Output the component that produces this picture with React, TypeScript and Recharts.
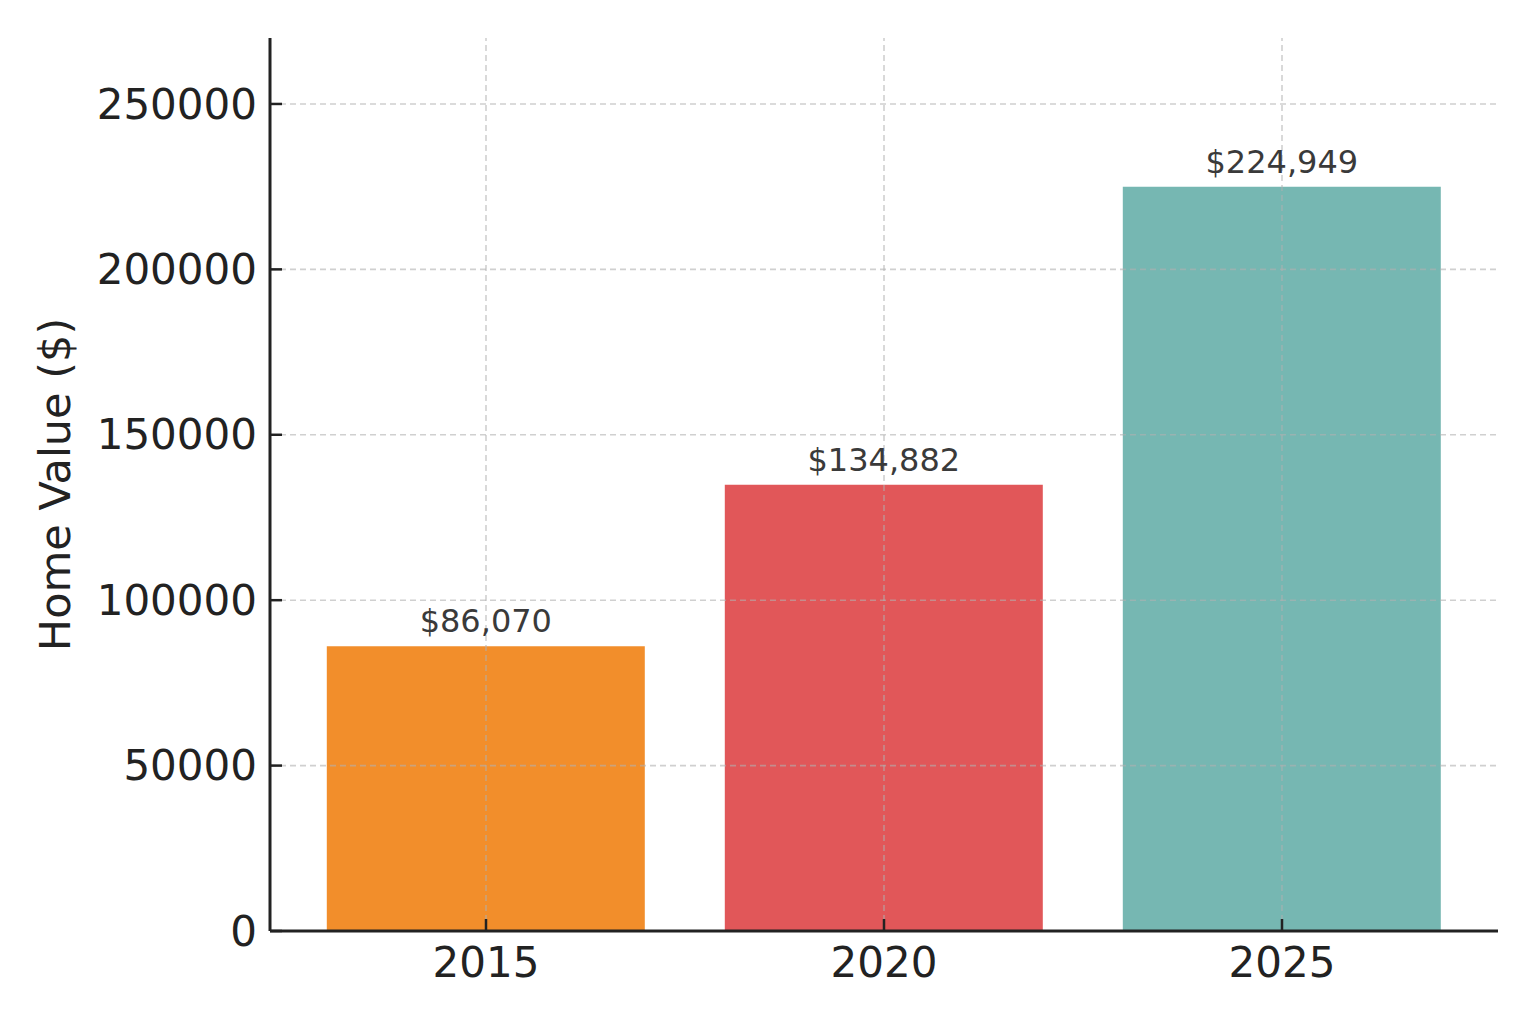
import React from 'react'
import { BarChart, Bar, XAxis, YAxis, Cell, LabelList, Label, ReferenceLine } from 'recharts'

const years = ['2015', '2020', '2025']
const homeValues = [86070, 134882, 224949]
const barColors = ['#F28E2B', '#E15759', '#76B7B2']
const yTicks = [0, 50000, 100000, 150000, 200000, 250000]

const data = years.map((year, i) => ({ year, value: homeValues[i] }))

const FONT = 'DejaVu Sans, sans-serif'
const INK = '#222222'
const GRID = { stroke: '#b0b0b0', strokeOpacity: 0.6, strokeWidth: 1.6, strokeDasharray: '6 4' }

function YTick(props: any) {
    const { x, y, payload } = props
    return (
        <g>
            <line x1={x + 13} x2={x + 25} y1={y} y2={y} stroke={INK} strokeWidth={2.5} />
            <text x={x} y={y} dy="0.35em" textAnchor="end" fontSize={42} fontFamily={FONT} fill={INK}>
                {payload.value}
            </text>
        </g>
    )
}

function XTick(props: any) {
    const { x, y, payload } = props
    return (
        <g>
            <line x1={x} x2={x} y1={y - 26} y2={y - 14} stroke={INK} strokeWidth={2.5} />
            <text x={x} y={y} dy="0.76em" textAnchor="middle" fontSize={42} fontFamily={FONT} fill={INK}>
                {payload.value}
            </text>
        </g>
    )
}

function ValueLabel(props: any) {
    const { x, y, width, value } = props
    return (
        <text x={x + width / 2} y={y - 14} textAnchor="middle" fontSize={32} fontFamily={FONT} fill="#3a3a3a">
            {'$' + Number(value).toLocaleString('en-US')}
        </text>
    )
}

function AxisTitle(props: any) {
    const { viewBox } = props
    const cy = viewBox.y + viewBox.height / 2
    return (
        <text
            x={70}
            y={cy}
            transform={`rotate(-90, 70, ${cy})`}
            textAnchor="middle"
            fontSize={43}
            fontFamily={FONT}
            fill={INK}
        >
            Home Value ($)
        </text>
    )
}

export default function App() {
    return (
        <div style={{ position: 'absolute', left: 0, top: 0, background: '#fff' }}>
            <BarChart
                width={1536}
                height={1024}
                data={data}
                margin={{ top: 38, right: 38, bottom: 0, left: 0 }}
                barCategoryGap="10%"
            >
                <XAxis
                    dataKey="year"
                    height={93}
                    padding={{ left: 17, right: 17 }}
                    axisLine={{ stroke: INK, strokeWidth: 3 }}
                    tickLine={false}
                    tickSize={0}
                    tickMargin={14}
                    tick={<XTick />}
                />
                <YAxis
                    width={270}
                    domain={[0, 269939]}
                    ticks={yTicks}
                    allowDataOverflow
                    axisLine={{ stroke: INK, strokeWidth: 3 }}
                    tickLine={false}
                    tickSize={0}
                    tickMargin={13}
                    tick={<YTick />}
                >
                    <Label content={<AxisTitle />} />
                </YAxis>
                <Bar dataKey="value" isAnimationActive={false}>
                    {data.map((d, i) => (
                        <Cell key={d.year} fill={barColors[i]} />
                    ))}
                    <LabelList dataKey="value" content={<ValueLabel />} />
                </Bar>
                {yTicks.slice(1).map((t) => (
                    <ReferenceLine key={'h' + t} y={t} {...GRID} />
                ))}
                {years.map((yr) => (
                    <ReferenceLine key={'v' + yr} x={yr} {...GRID} />
                ))}
            </BarChart>
        </div>
    )
}
